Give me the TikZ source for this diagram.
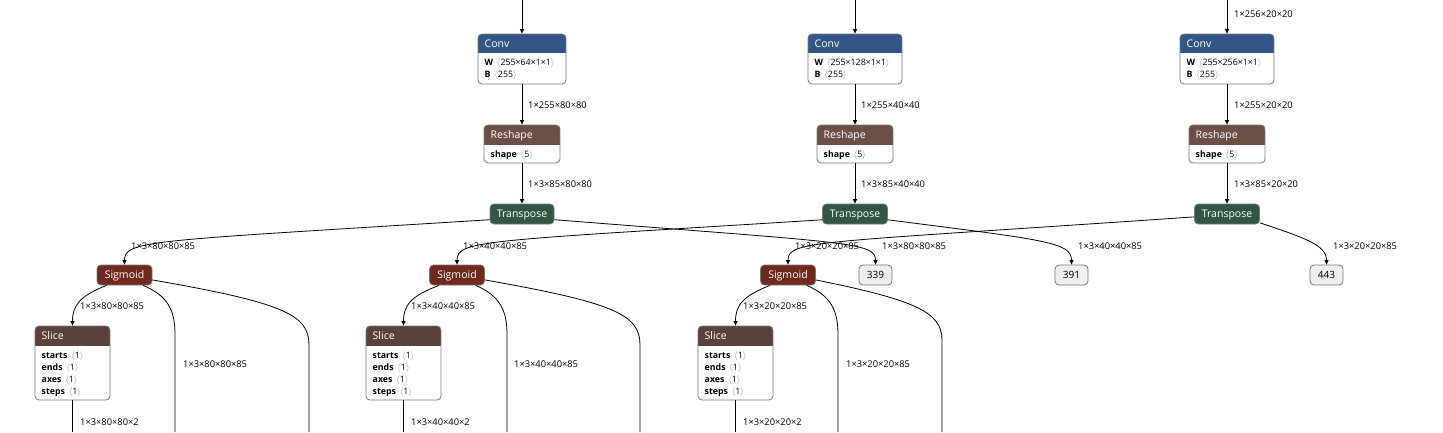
\documentclass[tikz,border=0pt]{standalone}
\usepackage{fontspec}
\setmainfont{Open Sans}
\usetikzlibrary{fit,arrows.meta,calc}
\definecolor{convc}{HTML}{335588}
\definecolor{shapec}{HTML}{6C4F47}
\definecolor{transc}{HTML}{335544}
\definecolor{actc}{HTML}{702921}
\definecolor{tensc}{HTML}{59423B}
\definecolor{nborder}{HTML}{777777}
\definecolor{outfill}{HTML}{EEEEEE}
\definecolor{brk}{HTML}{8A8A8A}
\newcommand\av[1]{\,{\color{brk}$\langle$}#1{\color{brk}$\rangle$}}
\newcommand\netbox[7]{%
  \begin{scope}
    \clip[rounded corners=4pt] (#2,#3) rectangle (#4,#6);
    \fill[#7] (#2,#3) rectangle (#4,#5);
    \fill[white] (#2,#5) rectangle (#4,#6);
  \end{scope}
  \coordinate (#1-nw) at (#2,#3);
  \coordinate (#1-se) at (#4,#6);
  \node[fit=(#1-nw)(#1-se), inner sep=0pt, draw=nborder, line width=0.8pt, rounded corners=4pt] (#1) {};
}
\begin{document}
\begin{tikzpicture}[x=1pt,y=-1pt,
  edge/.style={draw=black, line width=0.8pt, -{Triangle[length=4.5pt,width=4pt]}},
  plain/.style={draw=black, line width=0.8pt},
  elabel/.style={anchor=west, font=\fontsize{9.3}{10}\selectfont, inner sep=0pt, text height=0.714em, text depth=0pt},
  title/.style={anchor=west, text=white, font=\fontsize{10.5}{12}\selectfont, inner sep=0pt, text height=0.714em, text depth=0pt},
  attr/.style={anchor=west, font=\fontsize{8.8}{10}\selectfont, inner sep=0pt, text height=0.714em, text depth=0pt},
  opnode/.style={rounded corners=4pt, draw=nborder, line width=0.8pt, text=white, font=\fontsize{10.5}{12}\selectfont, minimum height=20pt, inner sep=0pt, text height=0.714em, text depth=0pt},
  outnode/.style={rounded corners=4pt, draw=nborder, line width=0.8pt, fill=outfill, minimum width=33pt, minimum height=20pt, inner sep=0pt, font=\fontsize{10}{12}\selectfont, text height=0.714em, text depth=0pt}
]
\useasboundingbox (0,0) rectangle (1443,432);

% ---------- column 1 ----------
\coordinate (in1) at (522,0);
\netbox{conv1}{478}{34}{566}{53}{84}{convc}
\node[title] (conv1-t) at (484.5,43.5) {Conv};
\node[attr] (conv1-w) at (484.5,62) {\textbf{W} \av{255×64×1×1}};
\node[attr] (conv1-b) at (484.5,74) {\textbf{B} \av{255}};
\netbox{resh1}{484}{125}{560}{145}{163}{shapec}
\node[title] (resh1-t) at (490.5,135) {Reshape};
\node[attr] (resh1-s) at (490.5,154) {\textbf{shape} \av{5}};
\node[opnode, fill=transc, minimum width=64pt] (tr1) at (522,214) {Transpose};

% ---------- column 2 ----------
\coordinate (in2) at (855,0);
\netbox{conv2}{808}{34}{902}{53}{84}{convc}
\node[title] (conv2-t) at (814.5,43.5) {Conv};
\node[attr] (conv2-w) at (814.5,62) {\textbf{W} \av{255×128×1×1}};
\node[attr] (conv2-b) at (814.5,74) {\textbf{B} \av{255}};
\netbox{resh2}{817}{125}{893}{145}{163}{shapec}
\node[title] (resh2-t) at (823.5,135) {Reshape};
\node[attr] (resh2-s) at (823.5,154) {\textbf{shape} \av{5}};
\node[opnode, fill=transc, minimum width=65pt] (tr2) at (855,214) {Transpose};

% ---------- column 3 ----------
\coordinate (in3) at (1227,0);
\netbox{conv3}{1180}{34}{1274}{53}{84}{convc}
\node[title] (conv3-t) at (1186.5,43.5) {Conv};
\node[attr] (conv3-w) at (1186.5,62) {\textbf{W} \av{255×256×1×1}};
\node[attr] (conv3-b) at (1186.5,74) {\textbf{B} \av{255}};
\netbox{resh3}{1189}{125}{1265}{145}{163}{shapec}
\node[title] (resh3-t) at (1195.5,135) {Reshape};
\node[attr] (resh3-s) at (1195.5,154) {\textbf{shape} \av{5}};
\node[opnode, fill=transc, minimum width=65pt] (tr3) at (1227,214) {Transpose};

% ---------- sigmoids and outputs ----------
\node[opnode, fill=actc, minimum width=55pt] (sig1) at (124.5,275) {Sigmoid};
\node[opnode, fill=actc, minimum width=55pt] (sig2) at (457,275) {Sigmoid};
\node[opnode, fill=actc, minimum width=55pt] (sig3) at (788,275) {Sigmoid};
\node[outnode] (o339) at (875.5,275) {339};
\node[outnode] (o391) at (1071.5,275) {391};
\node[outnode] (o443) at (1326.5,275) {443};

% ---------- slices ----------
\netbox{slice1}{35}{326}{110}{346}{400}{tensc}
\node[title] (slice1-t) at (41.5,336) {Slice};
\node[attr] (slice1-a) at (41.5,355) {\textbf{starts} \av{1}};
\node[attr] (slice1-b) at (41.5,367) {\textbf{ends} \av{1}};
\node[attr] (slice1-c) at (41.5,379) {\textbf{axes} \av{1}};
\node[attr] (slice1-d) at (41.5,391) {\textbf{steps} \av{1}};
\netbox{slice2}{366}{326}{441}{346}{400}{tensc}
\node[title] (slice2-t) at (372.5,336) {Slice};
\node[attr] (slice2-a) at (372.5,355) {\textbf{starts} \av{1}};
\node[attr] (slice2-b) at (372.5,367) {\textbf{ends} \av{1}};
\node[attr] (slice2-c) at (372.5,379) {\textbf{axes} \av{1}};
\node[attr] (slice2-d) at (372.5,391) {\textbf{steps} \av{1}};
\netbox{slice3}{698}{326}{773}{346}{400}{tensc}
\node[title] (slice3-t) at (704.5,336) {Slice};
\node[attr] (slice3-a) at (704.5,355) {\textbf{starts} \av{1}};
\node[attr] (slice3-b) at (704.5,367) {\textbf{ends} \av{1}};
\node[attr] (slice3-c) at (704.5,379) {\textbf{axes} \av{1}};
\node[attr] (slice3-d) at (704.5,391) {\textbf{steps} \av{1}};

% ---------- vertical edges in columns ----------
\draw[edge] (in1) -- (in1 |- conv1.north);
\draw[edge] (conv1.south) -- (conv1.south |- resh1.north);
\draw[edge] (resh1.south) -- (resh1.south |- tr1.north);
\node[elabel] (l1a) at (528,105) {1×255×80×80};
\node[elabel] (l1b) at (528,184) {1×3×85×80×80};

\draw[edge] (in2) -- (in2 |- conv2.north);
\draw[edge] (conv2.south) -- (conv2.south |- resh2.north);
\draw[edge] (resh2.south) -- (resh2.south |- tr2.north);
\node[elabel] (l2a) at (861,105) {1×255×40×40};
\node[elabel] (l2b) at (861,184) {1×3×85×40×40};

\draw[edge] (in3) -- (in3 |- conv3.north);
\draw[edge] (conv3.south) -- (conv3.south |- resh3.north);
\draw[edge] (resh3.south) -- (resh3.south |- tr3.north);
\node[elabel] (l3i) at (1234,14) {1×256×20×20};
\node[elabel] (l3a) at (1234,105) {1×255×20×20};
\node[elabel] (l3b) at (1234,184) {1×3×85×20×20};

% ---------- transpose fan-out ----------
\draw[edge] (tr1.190) .. controls (150,241) and (124.5,240) .. (sig1.north);
\draw[edge] (tr1.-10) .. controls (850,243) and (875.5,242) .. (o339.north);
\draw[edge] (tr2.190) .. controls (483,241) and (457,240) .. (sig2.north);
\draw[edge] (tr2.-10) .. controls (1045,240) and (1071.5,242) .. (o391.north);
\draw[edge] (tr3.185) .. controls (815,243) and (788,240) .. (sig3.north);
\draw[edge] (tr3.-15) .. controls (1305,238) and (1326.5,245) .. (o443.north);
\node[elabel] (t1a) at (131,246) {1×3×80×80×85};
\node[elabel] (t1b) at (882,246) {1×3×80×80×85};
\node[elabel] (t2a) at (463,246) {1×3×40×40×85};
\node[elabel] (t2b) at (1078,246) {1×3×40×40×85};
\node[elabel] (t3a) at (795,246) {1×3×20×20×85};
\node[elabel] (t3b) at (1333,246) {1×3×20×20×85};

% ---------- sigmoid fan-out ----------
\coordinate (s1b) at (175,432);
\coordinate (s1c) at (309,432);
\coordinate (s1d) at (72.5,432);
\draw[edge] (sig1.210) .. controls (80,296) and (72.5,305) .. (slice1.north);
\draw[plain] (sig1.-29) .. controls (168,296) and (175,310) .. (175,335) -- (s1b);
\draw[plain] (sig1.-10) .. controls (285,303) and (309,315) .. (309,345) -- (s1c);
\draw[plain] (slice1.south) -- (s1d);
\node[elabel] (u1a) at (80,306) {1×3×80×80×85};
\node[elabel] (u1b) at (183,364) {1×3×80×80×85};
\node[elabel] (u1c) at (80,422) {1×3×80×80×2};

\coordinate (s2b) at (507,432);
\coordinate (s2c) at (640,432);
\coordinate (s2d) at (403.5,432);
\draw[edge] (sig2.210) .. controls (411,296) and (403.5,305) .. (slice2.north);
\draw[plain] (sig2.-29) .. controls (500,296) and (507,310) .. (507,335) -- (s2b);
\draw[plain] (sig2.-10) .. controls (616,303) and (640,315) .. (640,345) -- (s2c);
\draw[plain] (slice2.south) -- (s2d);
\node[elabel] (u2a) at (411,306) {1×3×40×40×85};
\node[elabel] (u2b) at (514,364) {1×3×40×40×85};
\node[elabel] (u2c) at (411,422) {1×3×40×40×2};

\coordinate (s3b) at (838,432);
\coordinate (s3c) at (942,432);
\coordinate (s3d) at (735.5,432);
\draw[edge] (sig3.210) .. controls (743,296) and (735.5,305) .. (slice3.north);
\draw[plain] (sig3.-29) .. controls (831,296) and (838,310) .. (838,335) -- (s3b);
\draw[plain] (sig3.-10) .. controls (915,300) and (942,312) .. (942,340) -- (s3c);
\draw[plain] (slice3.south) -- (s3d);
\node[elabel] (u3a) at (743,306) {1×3×20×20×85};
\node[elabel] (u3b) at (846,364) {1×3×20×20×85};
\node[elabel] (u3c) at (743,422) {1×3×20×20×2};
\end{tikzpicture}
\end{document}
